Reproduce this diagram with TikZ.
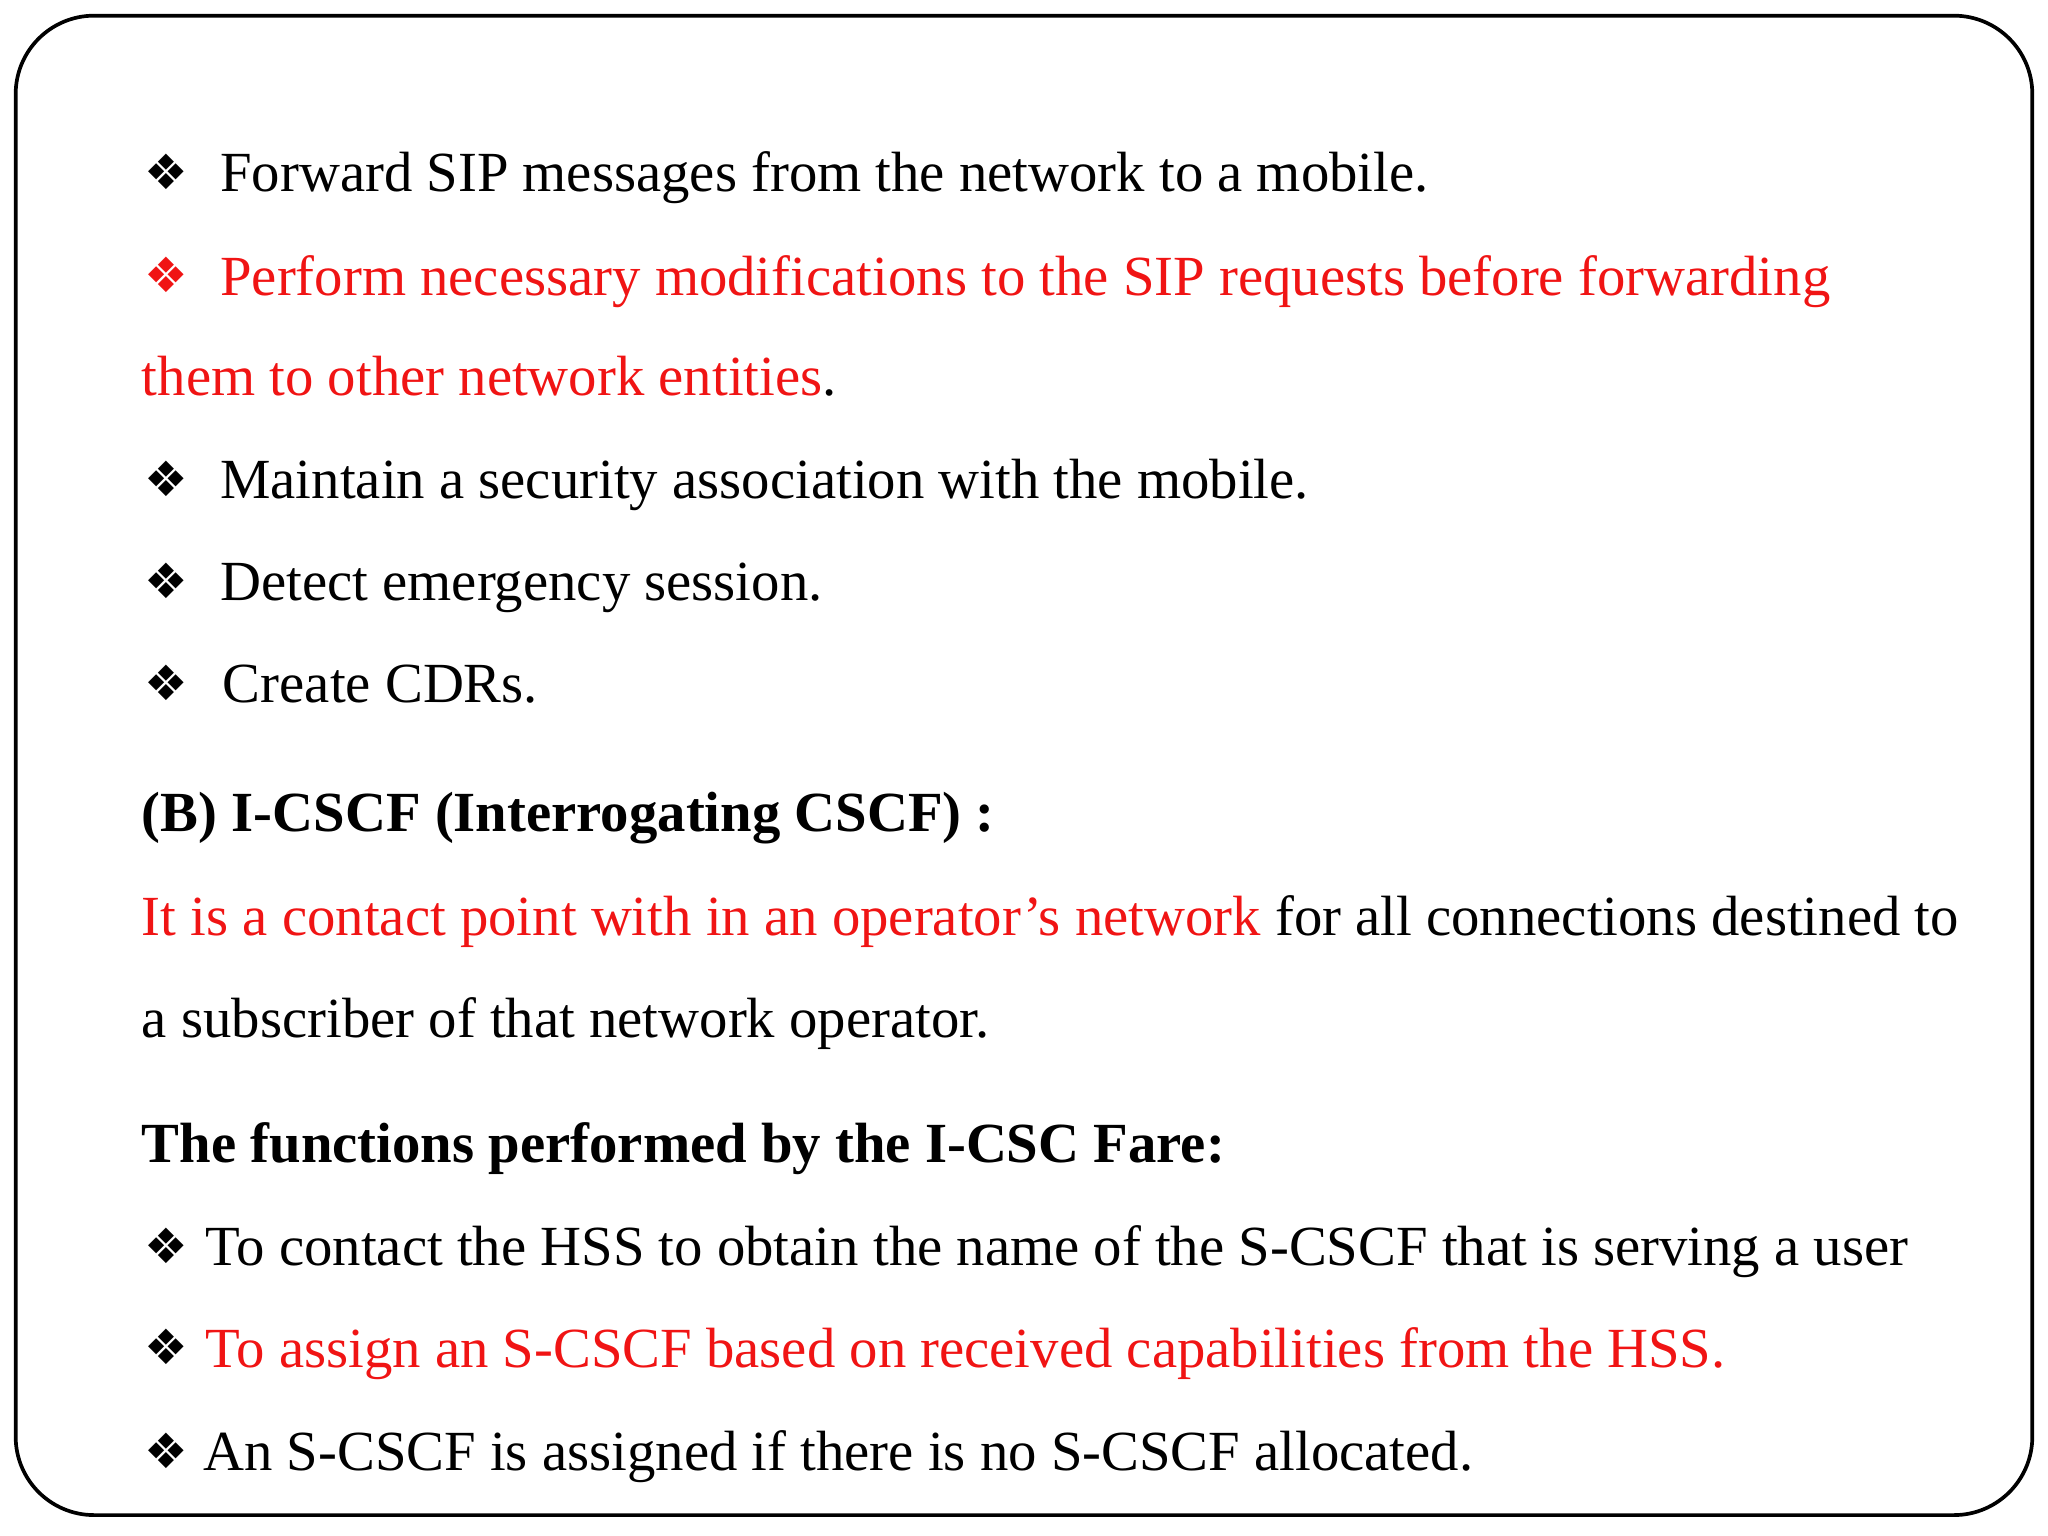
\documentclass[tikz,border=0pt]{standalone}
\usepackage{fontspec}
\setmainfont{Liberation Serif}
\newfontfamily\bulletfont{DejaVu Sans}
\definecolor{myred}{RGB}{240,20,20}
\begin{document}
\begin{tikzpicture}[x=0.01cm,y=-0.01cm,
  t/.style={anchor=base west,inner sep=0pt,font=\fontsize{12.35pt}{15pt}\selectfont},
  b/.style={anchor=base west,inner sep=0pt,font=\fontsize{10.6pt}{13pt}\bulletfont}]
\useasboundingbox (0,0) rectangle (1568,1176);
\draw[line width=0.8pt,rounded corners=0.6cm] (12,12) rectangle (1556,1160);
\node[b] (b1) at (110,145) {❖};
\node[t] (l1) at (168,147) {Forward SIP messages from the network to a mobile.};
\node[b,text=myred] (b2) at (110,224) {❖};
\node[t,text=myred] (l2) at (168,226) {Perform necessary modifications to the SIP requests before forwarding};
\node[t] (l3) at (108,303) {\textcolor{myred}{them to other network entities}.};
\node[b] (b4) at (110,380) {❖};
\node[t] (l4) at (168,382) {Maintain a security association with the mobile.};
\node[b] (b5) at (110,458) {❖};
\node[t] (l5) at (168,460) {Detect emergency session.};
\node[b] (b6) at (110,536) {❖};
\node[t] (l6) at (170,538) {Create CDRs.};
\node[t] (h1) at (108,637) {\bfseries (B) I-CSCF (Interrogating CSCF) :};
\node[t] (l7) at (108,716) {\textcolor{myred}{It is a contact point with in an operator’s network} for all connections destined to};
\node[t] (l8) at (108,794) {a subscriber of that network operator.};
\node[t] (h2) at (108,890) {\bfseries The functions performed by the I-CSC Fare:};
\node[b] (b9) at (110,967) {❖};
\node[t] (l9) at (157,969) {To contact the HSS to obtain the name of the S-CSCF that is serving a user};
\node[b] (b10) at (110,1045) {❖};
\node[t,text=myred] (l10) at (157,1047) {To assign an S-CSCF based on received capabilities from the HSS.};
\node[b] (b11) at (110,1124) {❖};
\node[t] (l11) at (155,1126) {An S-CSCF is assigned if there is no S-CSCF allocated.};
\end{tikzpicture}
\end{document}
